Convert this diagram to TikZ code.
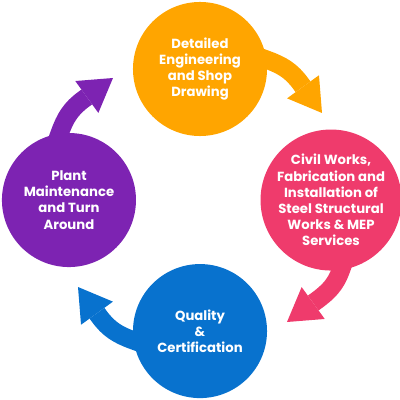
\documentclass[tikz,border=0pt]{standalone}
\usepackage{fontspec}
\setmainfont{Poppins}
\usetikzlibrary{positioning,arrows.meta,backgrounds}

\definecolor{drawOrange}{RGB}{255,165,0}
\definecolor{civilPink}{RGB}{239,59,108}
\definecolor{qualityBlue}{RGB}{8,114,206}
\definecolor{plantPurple}{RGB}{125,35,178}

\begin{document}
\begin{tikzpicture}[x=0.025cm, y=0.025cm, node distance=3.275cm and 3.275cm, on grid]
        \tikzstyle{stage} = [circle, minimum size=3.35cm, inner sep=0pt, align=center, text=white, font=\fontsize{9.4}{11.5}\selectfont\bfseries]
        \tikzstyle{flow} = [line width=13pt, -{Triangle[width=28pt, length=23pt, line width=0pt]}]
        \useasboundingbox (-200,-200) rectangle (200,200);
        \node[stage, fill=drawOrange] (drawing) at (0,131) {Detailed\\Engineering\\and Shop\\Drawing};
        \node[stage, fill=civilPink, below right=of drawing] (civil) {Civil Works,\\Fabrication and\\Installation of\\Steel Structural\\Works \& MEP\\Services};
        \node[stage, fill=qualityBlue, below left=of civil] (quality) {Quality\\\&\\Certification};
        \node[stage, fill=plantPurple, above left=of quality] (plant) {Plant\\Maintenance\\and Turn\\Around};
        \coordinate (baseA) at (101,116);
        \coordinate (tipA) at (122,87);
        \coordinate (baseB) at (116,-101);
        \coordinate (tipB) at (87,-122);
        \coordinate (baseC) at (-101,-116);
        \coordinate (tipC) at (-122,-87);
        \coordinate (baseD) at (-116,101);
        \coordinate (tipD) at (-87,122);
        \begin{pgfonlayer}{background}
        \draw[flow, drawOrange] (drawing.8) ++(160:30) -- (drawing.8) to[out=-20, in=126] (baseA) -- (tipA);
        \draw[flow, civilPink] (civil.-82) ++(70:30) -- (civil.-82) to[out=-110, in=36] (baseB) -- (tipB);
        \draw[flow, qualityBlue] (quality.-172) ++(-20:30) -- (quality.-172) to[out=160, in=-54] (baseC) -- (tipC);
        \draw[flow, plantPurple] (plant.98) ++(-110:30) -- (plant.98) to[out=70, in=-144] (baseD) -- (tipD);
        \end{pgfonlayer}
\end{tikzpicture}
\end{document}
